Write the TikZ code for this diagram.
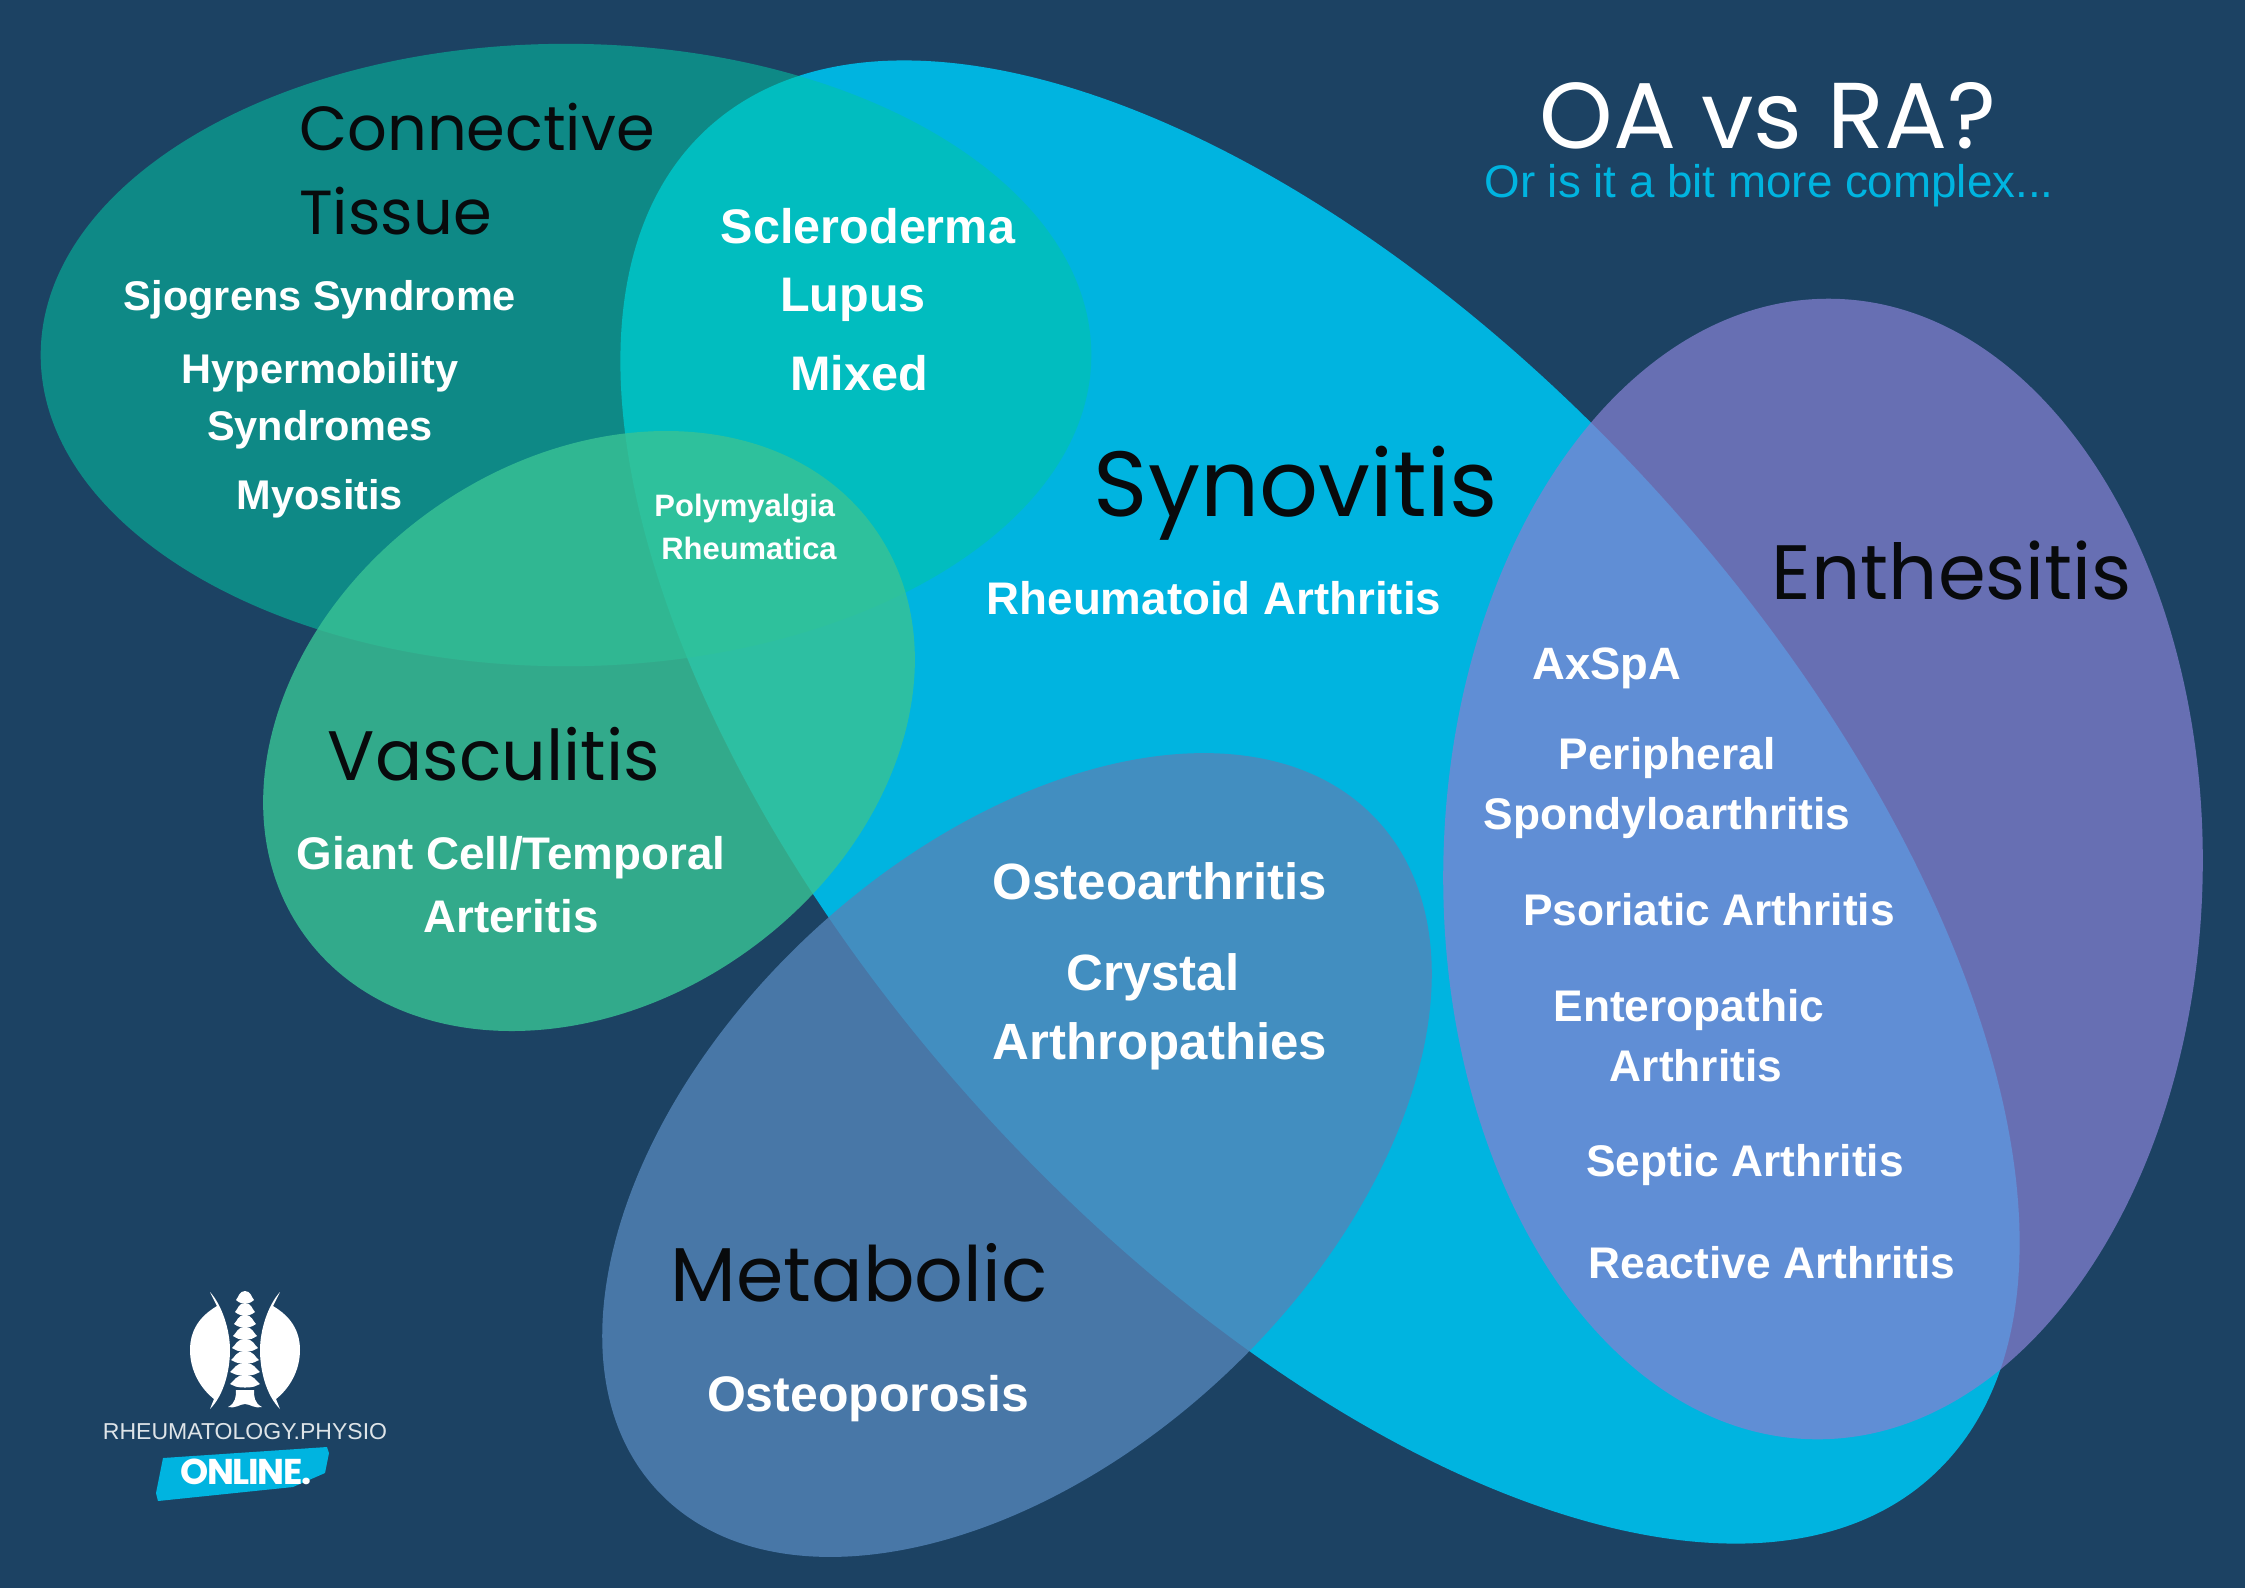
\documentclass[tikz,border=0pt]{standalone}
\usepackage{fontspec}
\usetikzlibrary{shapes.geometric}
\setmainfont{Liberation Sans}
\newfontfamily\headfont{Poppins}
\newfontfamily\brandfont[LetterSpace=-4.0]{Poppins}
\definecolor{bgblue}{RGB}{28,66,99}
\definecolor{cyanmain}{RGB}{0,180,224}
\definecolor{tealmain}{RGB}{3,197,164}
\definecolor{greenmain}{RGB}{56,194,149}
\definecolor{steelmain}{RGB}{83,133,185}
\definecolor{violetmain}{RGB}{132,129,210}
\definecolor{headblack}{RGB}{8,10,12}
\definecolor{logogrey}{RGB}{222,228,232}
\begin{document}
\begin{tikzpicture}[x=0.01cm,y=-0.01cm,
  blob/.style={ellipse,draw=none,inner sep=0pt},
  headtxt/.style={text=headblack,inner sep=0pt,font=\headfont\fontsize{#1}{#1}\selectfont},
  dx/.style={text=white,inner sep=0pt,align=center,font=\bfseries\fontsize{#1}{#1}\selectfont},
  bigdx/.style={dx=14.2},
  middx/.style={dx=12.9},
  smalldx/.style={dx=11.8}]
  \useasboundingbox (0,0) rectangle (2245,1587);
  \fill[bgblue] (-10,-10) rectangle (2255,1597);
  % the five areas
  \node[blob,fill=cyanmain,minimum width=18.2cm,minimum height=9.16cm,rotate=-47.8] (syn) at (1320,802) {};
  \node[blob,fill=tealmain,fill opacity=0.55,minimum width=10.5cm,minimum height=6.22cm] (conn) at (566,355) {};
  \node[blob,fill=greenmain,fill opacity=0.82,minimum width=7cm,minimum height=5.42cm,rotate=35.4] (vasc) at (589,731) {};
  \node[blob,fill=steelmain,fill opacity=0.8,minimum width=9.83cm,minimum height=6.05cm,rotate=43] (meta) at (1017,1155) {};
  \node[blob,fill=violetmain,fill opacity=0.73,minimum width=7.59cm,minimum height=11.4cm,rotate=-1] (enth) at (1823,869) {};
  % title
  \node[text=white,inner sep=0pt,font=\headfont\fontsize{26.6}{26.6}\selectfont] (title) at (1768,116) {OA vs RA?};
  \node[text=cyanmain,inner sep=0pt,font=\fontsize{13}{13}\selectfont] (subtitle) at (1769,186) {Or is it a bit more complex...};
  % headings
  \node[headtxt=18,align=left,font=\headfont\fontsize{17.7}{24}\selectfont] (conntitle) at (477,169) {Connective\\Tissue};
  \node[headtxt=26.3] (syntitle) at (1296,493) {Synovitis};
  \node[headtxt=21.9] (enthtitle) at (1952,571) {Enthesitis};
  \node[headtxt=19.9] (vasctitle) at (494,754) {Vasculitis};
  \node[headtxt=21.7] (metatitle) at (859,1273) {Metabolic};
  % connective tissue
  \node[smalldx] (sjogrens) at (320,300) {Sjogrens Syndrome};
  \node[smalldx,font=\bfseries\fontsize{11.8}{16.2}\selectfont] (hyper) at (320,401) {Hypermobility\\Syndromes};
  \node[smalldx] (myositis) at (320,499) {Myositis};
  \node[dx=13.8] (sclero) at (868,226) {Scleroderma};
  \node[dx=13.8] (lupus) at (853,300) {Lupus};
  \node[dx=13.8] (mixed) at (859,373) {Mixed};
  \node[dx=8.8,font=\bfseries\fontsize{8.8}{12.2}\selectfont] (pmr) at (749,527) {Polymyalgia\hspace*{2.4pt}\\Rheumatica};
  % synovitis
  \node[dx=13] (ra) at (1214,598) {Rheumatoid Arthritis};
  \node[dx=13,font=\bfseries\fontsize{13}{17.9}\selectfont] (gca) at (511,885) {Giant Cell/Temporal\\Arteritis};
  \node[dx=14.5] (oa) at (1160,881) {Osteoarthritis};
  \node[dx=14.5,font=\bfseries\fontsize{14.5}{19.6}\selectfont] (crystal) at (1160,1012) {Crystal\hspace*{4pt}\\Arthropathies};
  \node[bigdx] (osteop) at (868,1399) {Osteoporosis};
  % enthesitis
  \node[middx] (axspa) at (1607,668) {AxSpA};
  \node[middx,font=\bfseries\fontsize{12.6}{17}\selectfont] (periph) at (1667,788) {Peripheral\\Spondyloarthritis};
  \node[dx=12.6] (psa) at (1709,910) {Psoriatic Arthritis};
  \node[dx=12.6,font=\bfseries\fontsize{12.6}{17}\selectfont] (entero) at (1696,1036) {Enteropathic\hspace*{4pt}\\Arthritis};
  \node[dx=12.6] (septic) at (1745,1165) {Septic Arthritis};
  \node[dx=12.6] (reactive) at (1772,1263) {Reactive Arthritis};
  % logo
  \fill[white] (210,1292) .. controls (222,1305) and (230,1330) .. (230,1350) .. controls (230,1370) and (224,1395) .. (210,1409) -- (214,1399) .. controls (200,1388) and (190,1370) .. (190,1350) .. controls (190,1330) and (200,1316) .. (217,1306) -- cycle;
  \fill[white] (280,1292) .. controls (268,1305) and (260,1330) .. (260,1350) .. controls (260,1370) and (266,1395) .. (280,1409) -- (276,1399) .. controls (290,1388) and (300,1370) .. (300,1350) .. controls (300,1330) and (290,1316) .. (273,1306) -- cycle;
  \foreach \yy/\ww in {1296/9,1308/10,1320/11,1332/12,1344/13,1356/14,1368/15,1380/15} {
    \fill[white] (245-\ww,\yy+4) .. controls (245-0.7*\ww,\yy+1) and (245-0.65*\ww,\yy-5) .. (245,\yy-5) .. controls (245+0.65*\ww,\yy-5) and (245+0.7*\ww,\yy+1) .. (245+\ww,\yy+4) -- (245+0.7*\ww,\yy+6) .. controls (245+0.5*\ww,\yy+8) and (245-0.5*\ww,\yy+8) .. (245-0.7*\ww,\yy+6) -- cycle;
  }
  \fill[white] (228,1407) .. controls (236,1403) and (236,1396) .. (236,1390) -- (254,1390) .. controls (254,1396) and (254,1403) .. (262,1407) .. controls (255,1409) and (250,1404) .. (245,1404) .. controls (240,1404) and (235,1409) .. (228,1407) -- cycle;
  \node[text=logogrey,inner sep=0pt,font=\fontsize{6.55}{6.55}\selectfont] (brand) at (245,1432) {RHEUMATOLOGY.PHYSIO};
  \fill[cyanmain] (163,1458) -- (327,1447) -- (329,1453) -- (325,1473) -- (293,1487) -- (158,1501) -- (156,1493) -- cycle;
  \node[text=white,inner sep=0pt,font=\brandfont\bfseries\fontsize{10.2}{10.2}\selectfont] (online) at (246,1472) {ONLINE.};
\end{tikzpicture}
\end{document}
